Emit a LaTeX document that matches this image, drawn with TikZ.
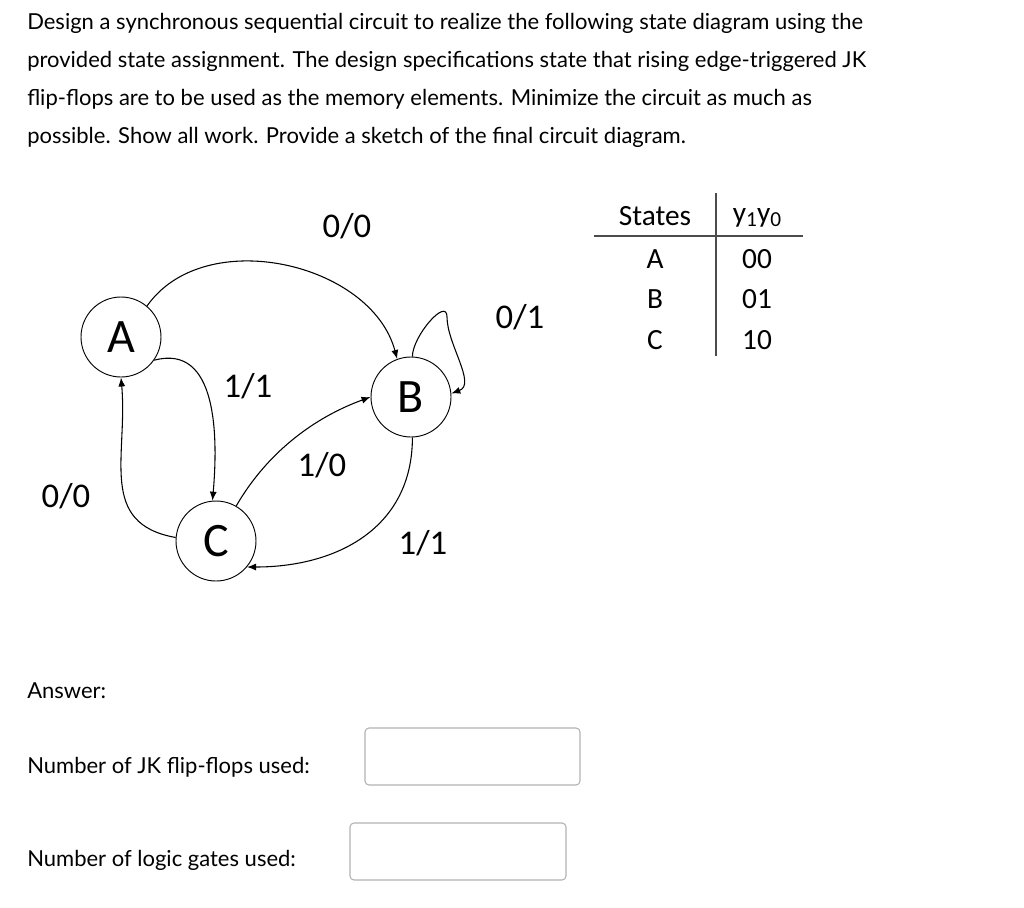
\documentclass[tikz,border=0pt]{standalone}
\usepackage{fontspec}
\setmainfont{Lato}
\newfontfamily\calfont{Carlito}
\usetikzlibrary{arrows.meta}
\begin{document}
\begin{tikzpicture}[x=0.75pt,y=-0.75pt,
  st/.style={circle,draw,line width=0.7pt,minimum size=60pt,inner sep=0pt,font=\calfont\fontsize{36}{36}\selectfont},
  edge/.style={draw,line width=0.8pt,-{Latex[length=6.75pt,width=5.25pt]}},
  lbl/.style={font=\calfont\fontsize{26}{26}\selectfont},
  tbl/.style={font=\calfont\fontsize{22}{22}\selectfont},
  txt/.style={font=\fontsize{16.5}{28.5}\selectfont,anchor=base west,inner sep=0pt},
  box/.style={draw=black!30,rounded corners=3pt,line width=0.8pt}]
\useasboundingbox (0,0) rectangle (1024,907);
\node[txt] (q1) at (27,29) {Design a synchronous sequential circuit to realize the following state diagram using the};
\node[txt] (q2) at (27,67) {provided state assignment. The design specifications state that rising edge-triggered JK};
\node[txt] (q3) at (27,105) {flip-flops are to be used as the memory elements. Minimize the circuit as much as};
\node[txt] (q4) at (27,143) {possible. Show all work. Provide a sketch of the final circuit diagram.};
\node[st] (A) at (121,337) {A};
\node[st] (B) at (411,397) {B};
\node[st] (C) at (216,541) {C};
\draw[edge] (A.50) to[out=55,in=105,looseness=1.0] (B.110);
\draw[edge] (A.-35) to[out=15,in=85,looseness=1.1] (C.95);
\draw[edge] (C.175) to[out=170,in=-85,looseness=1.2] (A.-90);
\draw[edge] (C.60) to[out=60,in=200,looseness=0.9] (B.180);
\draw[edge] (B.-88) to[out=-90,in=0,looseness=1.1] (C.-40);
\coordinate (lp) at (447,317);
\draw[edge] (B.88) to[out=90,in=90,looseness=1] (lp) to[out=-90,in=20,looseness=0.9] (B.5);
\node[lbl] (l1) at (347,226) {0/0};
\node[lbl] (l2) at (248,386) {1/1};
\node[lbl] (l3) at (66,496) {0/0};
\node[lbl] (l4) at (322,465) {1/0};
\node[lbl] (l5) at (423,543) {1/1};
\node[lbl] (l6) at (520,317) {0/1};
\draw[line width=0.8pt,black!70] (716,193) -- (716,356);
\draw[line width=0.8pt,black!70] (594,236) -- (803,236);
\node[tbl] (h1) at (655,216) {States};
\node[tbl] (h2) at (757,218) {y\raisebox{-0.25ex}{\fontsize{16}{16}\selectfont 1}y\raisebox{-0.25ex}{\fontsize{16}{16}\selectfont 0}};
\node[tbl] (a1) at (655,259) {A};
\node[tbl] (a2) at (757,259) {00};
\node[tbl] (b1) at (655,299) {B};
\node[tbl] (b2) at (757,299) {01};
\node[tbl] (c1) at (655,340) {C};
\node[tbl] (c2) at (757,340) {10};
\node[txt] (ans) at (27,698) {Answer:};
\node[txt] (n1) at (27,773) {Number of JK flip-flops used:};
\node[txt] (n2) at (27,866) {Number of logic gates used:};
\draw[box] (365,728) rectangle (580,785);
\draw[box] (350,823) rectangle (566,880);
\end{tikzpicture}
\end{document}
